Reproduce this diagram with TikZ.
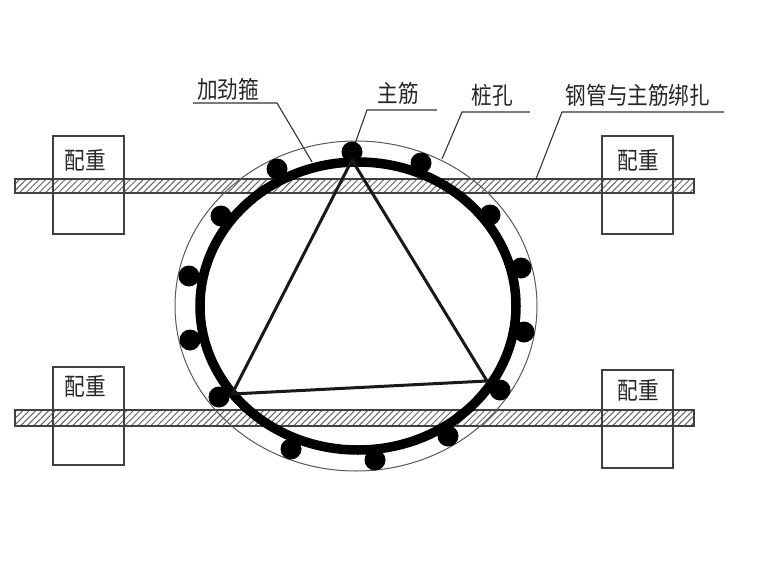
\documentclass[tikz,border=0pt]{standalone}
\usepackage{fontspec}
\setmainfont[FakeStretch=0.86]{Noto Sans CJK SC}
\usetikzlibrary{patterns.meta}
\tikzset{
  lbl/.style={inner sep=0pt,font=\fontsize{24}{24}\selectfont,text=black!85},
  weight/.style={draw=black!75,line width=1.2pt,fill=white,minimum width=71pt,minimum height=98pt,inner sep=0pt,outer sep=0pt},
  weightline/.style={draw=black!75,line width=1.2pt},
  bar/.style={draw=black!75,line width=1.1pt,inner sep=0pt,outer sep=0pt,minimum width=679pt,minimum height=14pt,
    pattern={Lines[angle=45,distance=4.6pt,line width=1pt]},pattern color=black!60},
  leader/.style={draw=black!80,line width=1.1pt},
  bore/.style={draw=black!65,line width=1pt},
  hoop/.style={draw=black,line width=9.5pt},
  rebar/.style={fill=black,circle,minimum size=21pt,inner sep=0pt,outer sep=0pt},
  brace/.style={draw=black!90,line width=3pt}
}
\begin{document}
\begin{tikzpicture}[x=1pt,y=-1pt]
\useasboundingbox (0,0) rectangle (760,570);
\fill[white] (0,0) rectangle (760,570);
% counterweights
\node[weight] (wa) at (88.5,185) {};
\node[weight] (wb) at (637.5,185) {};
\node[weight] (wc) at (88.5,416) {};
\node[weight] (wd) at (637.5,419) {};
% steel tubes
\node[bar] (tubeA) at (354.5,186) {};
\node[bar,minimum height=16pt] (tubeB) at (354.5,418) {};
% weight outlines crossing the tubes
\draw[weightline] (wa.north west) rectangle (wa.south east);
\draw[weightline] (wb.north west) rectangle (wb.south east);
\draw[weightline] (wc.north west) rectangle (wc.south east);
\draw[weightline] (wd.north west) rectangle (wd.south east);
% bore and hoop
\draw[bore] (356,306) ellipse [x radius=181,y radius=165];
\draw[hoop] (358,306) ellipse [x radius=158,y radius=144];
% main bars
\foreach \n/\x/\y in {a/277/169,b/352/152,c/421/163,d/490/215,e/521/268,f/524/332,g/500/390,h/448/436,i/375/460,j/291/449,k/219/397,l/190/340,m/189/276,n/221/216}
  \node[rebar] (r\n) at (\x,\y) {};
% triangular brace
\coordinate (ta) at (352,160);
\coordinate (tb) at (232,394);
\coordinate (tc) at (487,381);
\draw[brace,line join=round] (ta) -- (tb) -- (tc) -- cycle;
% labels
\node[lbl] (l1) at (228,89) {加劲箍};
\node[lbl] (l2) at (398,93) {主筋};
\node[lbl] (l3) at (492,95) {桩孔};
\node[lbl] (l4) at (638,95) {钢管与主筋绑扎};
\node[lbl] (w1) at (85,160) {配重};
\node[lbl] (w2) at (638,160) {配重};
\node[lbl] (w3) at (85,386) {配重};
\node[lbl] (w4) at (638,390) {配重};
% leaders
\coordinate (e1) at (312,162);
\coordinate (e3) at (442,159);
\coordinate (e4) at (536,179);
\draw[leader] (193,103) -- (277,103) -- (e1);
\draw[leader] (437,110) -- (367,110) -- (rb.70);
\draw[leader] (530,112) -- (462,112) -- (e3);
\draw[leader] (724,112) -- (562,112) -- (e4);
\end{tikzpicture}
\end{document}
